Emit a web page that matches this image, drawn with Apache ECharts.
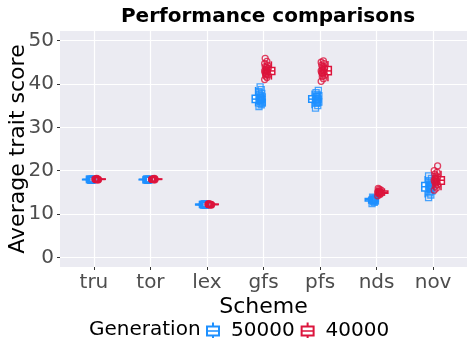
<!DOCTYPE html>
<html><head><meta charset="utf-8">
<script src="https://cdn.jsdelivr.net/npm/echarts@6/dist/echarts.min.js"></script>
<style>html,body{margin:0;padding:0;background:#fff}#c{width:474px;height:338px}</style>
</head><body><div id="c"></div>
<script>
const categories = ['tru','tor','lex','gfs','pfs','nds','nov'];
const yTicks = [0,10,20,30,40,50];
const genNames = ['50000','40000'];
// points per scheme, generation 50000
const pts50000 = [
  [17.9,18.0,17.8,18.1,17.9,18.0,17.9,18.1,17.8,18.0,17.9,18.0],
  [17.9,18.0,17.8,18.0,17.9,18.1,18.0,17.9,17.8,18.0,17.9,18.0],
  [12.2,12.3,12.1,12.2,12.4,12.2,12.0,12.3,12.2,12.1,12.3,12.2],
  [34.8,35.2,35.5,35.8,36.0,36.2,36.4,36.5,36.6,36.8,37.0,37.2,37.5,37.8,38.2,38.7,39.3,35.6,36.9,36.3],
  [34.4,35.0,35.5,35.8,36.0,36.3,36.5,36.6,36.8,37.0,37.3,37.6,38.0,38.5,36.2,35.7,37.1],
  [12.4,12.7,12.9,13.0,13.1,13.2,13.3,13.3,13.4,13.5,13.6,13.7,13.9,13.2],
  [13.8,14.4,14.9,15.3,15.6,15.9,16.1,16.3,16.5,16.7,17.0,17.3,17.7,18.2,18.8,15.8,16.6]
];
// points per scheme, generation 40000
const pts40000 = [
  [18.0,18.1,17.9,18.0,18.2,18.0,17.9,18.1,18.0,18.0,17.9,18.1],
  [18.0,18.1,18.0,17.9,18.1,18.0,18.2,18.0,17.9,18.0,18.1,18.0],
  [12.2,12.3,12.2,12.1,12.2,12.4,12.2,12.3,12.1,12.2,12.2,12.3],
  [41.0,41.5,41.8,42.1,42.4,42.6,42.8,43.0,43.1,43.3,43.5,43.8,44.0,44.3,44.7,45.2,42.2,43.6,42.9,45.9],
  [40.6,41.2,41.7,42.0,42.3,42.6,42.8,43.0,43.2,43.4,43.7,44.0,44.3,44.7,45.0,45.3,42.5,43.5],
  [14.2,14.5,14.7,14.8,14.9,15.0,15.0,15.1,15.2,15.3,15.5,15.7,15.9,14.9],
  [15.5,16.0,16.4,16.8,17.1,17.4,17.6,17.8,18.0,18.2,18.5,18.8,19.2,19.6,20.0,17.5,18.3,21.1]
];
// box stats [low, q1, median, q3, high]
const box50000 = [
  [17.8,17.9,18.0,18.0,18.1],
  [17.8,17.9,18.0,18.0,18.1],
  [12.0,12.1,12.2,12.3,12.4],
  [34.8,35.7,36.5,37.4,39.3],
  [34.4,35.8,36.5,37.3,38.5],
  [12.4,13.0,13.3,13.6,13.9],
  [13.8,15.3,16.3,17.3,18.8]
];
const box40000 = [
  [17.9,18.0,18.0,18.1,18.2],
  [17.9,18.0,18.0,18.1,18.2],
  [12.1,12.2,12.2,12.3,12.4],
  [41.0,42.2,43.0,43.8,45.2],
  [40.6,42.1,43.0,44.0,45.3],
  [14.2,14.8,15.0,15.3,15.9],
  [15.5,16.9,17.8,18.6,20.0]
];

const BLUE = '#1E90FF', RED = '#DC143C';
const FONT = 'DejaVu Sans';
const jit = [-0.03, 0.01, -0.01, 0.03, 0, -0.02, 0.02];

function scatterData(pts, off) {
  const d = [];
  pts.forEach((arr, i) => arr.forEach((v, k) => d.push([i + off + jit[k % jit.length], v])));
  return d;
}
function boxData(stats, off) {
  return stats.map((s, i) => [i + off].concat(s));
}
function boxRender(color) {
  return function (params, api) {
    const x = api.value(0);
    const half = 0.06;
    const pL = api.coord([x - half, api.value(3)]);
    const pR = api.coord([x + half, api.value(3)]);
    const pc = api.coord([x, 0]);
    const yLow = api.coord([x, api.value(1)])[1];
    const yQ1 = api.coord([x, api.value(2)])[1];
    const yMed = api.coord([x, api.value(3)])[1];
    const yQ3 = api.coord([x, api.value(4)])[1];
    const yHigh = api.coord([x, api.value(5)])[1];
    const st = {stroke: color, lineWidth: 1.5, fill: null};
    return {
      type: 'group',
      children: [
        {type: 'line', shape: {x1: pc[0], y1: yLow, x2: pc[0], y2: yQ1}, style: st},
        {type: 'line', shape: {x1: pc[0], y1: yQ3, x2: pc[0], y2: yHigh}, style: st},
        {type: 'rect', shape: {x: pL[0], y: yQ3, width: pR[0] - pL[0], height: yQ1 - yQ3},
         style: {stroke: color, lineWidth: 1.5, fill: '#fff'}},
        {type: 'line', shape: {x1: pL[0], y1: yMed, x2: pR[0], y2: yMed}, style: st}
      ]
    };
  };
}

const chart = echarts.init(document.getElementById('c'), null, {renderer: 'canvas'});
const legendIcon = 'path://M6,0 L8,0 L8,3 L14,3 L14,14 L8,14 L8,17 L6,17 L6,14 L0,14 L0,3 L6,3 Z M2,5 L2,12 L12,12 L12,5 Z M2,7.8 L12,7.8 L12,9.2 L2,9.2 Z';
chart.setOption({
  animation: false,
  backgroundColor: '#fff',
  title: {
    text: 'Performance comparisons', left: 263, top: 2, textAlign: 'center',
    textStyle: {fontFamily: FONT, fontWeight: 'bold', fontSize: 20, color: '#000'}
  },
  grid: {left: 60, right: 7, top: 31, bottom: 71, show: true, backgroundColor: '#EBEBF2', borderWidth: 0,
    containLabel: false, outerBoundsMode: 'none'},
  xAxis: {
    type: 'value', min: -0.6, max: 6.6,
    name: 'Scheme', nameLocation: 'middle', nameGap: 29, nameMoveOverlap: false,
    nameTextStyle: {fontFamily: FONT, fontSize: 22, color: '#000'},
    axisLine: {show: false, onZero: false},
    axisTick: {show: true, length: 3, customValues: [0,1,2,3,4,5,6], lineStyle: {color: '#333'}},
    axisLabel: {customValues: [0,1,2,3,4,5,6], formatter: v => categories[Math.round(v)],
      fontFamily: FONT, fontSize: 20, color: '#4D4D4D', margin: 6},
    splitLine: {show: true, lineStyle: {color: '#fff', width: 1.2}}
  },
  yAxis: {
    type: 'value', min: -2.2, max: 52.2,
    name: 'Average trait score', nameLocation: 'middle', nameGap: 31, nameMoveOverlap: false,
    nameTextStyle: {fontFamily: FONT, fontSize: 22, color: '#000'},
    axisLine: {show: false, onZero: false},
    axisTick: {show: true, length: 3, customValues: yTicks, lineStyle: {color: '#333'}},
    axisLabel: {customValues: yTicks, fontFamily: FONT, fontSize: 20, color: '#4D4D4D', margin: 6},
    splitLine: {show: true, lineStyle: {color: '#fff', width: 1.2}}
  },
  legend: {
    left: 201, top: 316, itemWidth: 14, itemHeight: 17, itemGap: 6,
    data: [
      {name: genNames[0], icon: legendIcon, itemStyle: {color: BLUE}},
      {name: genNames[1], icon: legendIcon, itemStyle: {color: RED}}
    ],
    textStyle: {fontFamily: FONT, fontSize: 20, color: '#000', padding: [0,0,0,6]}
  },
  graphic: [{
    type: 'text', left: 89, top: 320,
    style: {text: 'Generation', font: '20px "DejaVu Sans"', fill: '#000'}
  }],
  series: [
    {name: genNames[0], type: 'custom', renderItem: boxRender(BLUE), data: boxData(box50000, -0.14),
     encode: {x: 0, y: [1,5]}, z: 3},
    {name: genNames[1], type: 'custom', renderItem: boxRender(RED), data: boxData(box40000, 0.14),
     encode: {x: 0, y: [1,5]}, z: 3},
    {name: genNames[0], type: 'scatter', symbol: 'rect', symbolSize: 6, data: scatterData(pts50000, -0.05),
     itemStyle: {color: 'rgba(0,0,0,0)', borderColor: BLUE, borderWidth: 1.3}, z: 4},
    {name: genNames[1], type: 'scatter', symbol: 'circle', symbolSize: 6, data: scatterData(pts40000, 0.05),
     itemStyle: {color: 'rgba(0,0,0,0)', borderColor: RED, borderWidth: 1.3}, z: 4}
  ]
});
</script></body></html>
